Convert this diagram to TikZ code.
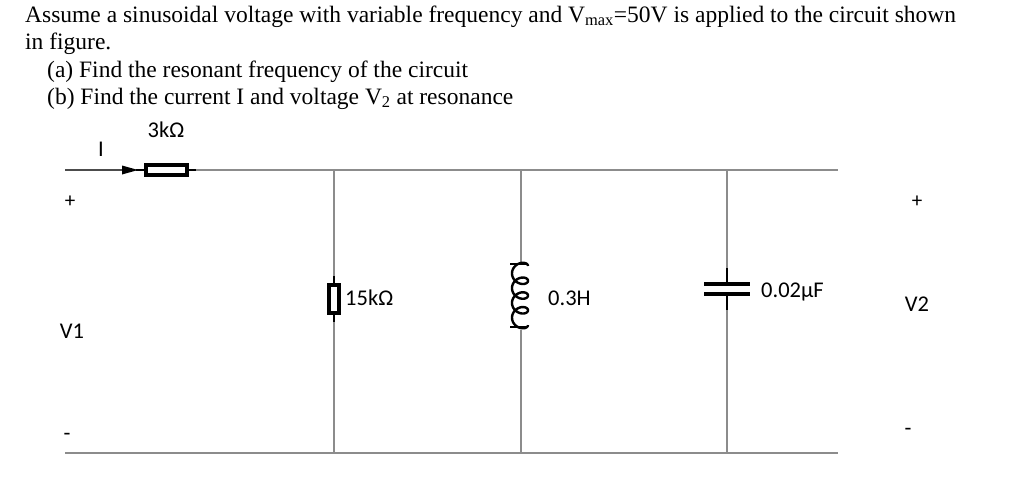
\documentclass[tikz,border=0pt]{standalone}
\usepackage{fontspec}
\setmainfont{Liberation Serif}
\newfontfamily\lbl{Carlito}
\begin{document}
\begin{tikzpicture}[x=1pt,y=-1pt,
  wire/.style={draw=black!45,line width=1.1pt},
  comp/.style={draw=black,line width=3.2pt},
  lab/.style={font=\lbl\fontsize{22.5}{26}\selectfont,inner sep=0pt},
  hdr/.style={font=\fontsize{23.5}{28}\selectfont,inner sep=0pt,anchor=base west}]
\useasboundingbox (0,0) rectangle (1024,479);
\node[hdr] (t1) at (25,22) {Assume a sinusoidal voltage with variable frequency and V\textsubscript{max}=50V is applied to the circuit shown};
\node[hdr] (t2) at (25,49) {in figure.};
\node[hdr] (t3) at (47,77) {(a) Find the resonant frequency of the circuit};
\node[hdr] (t4) at (47,104) {(b) Find the current I and voltage V\textsubscript{2} at resonance};
\coordinate (L1) at (65,170); \coordinate (R1) at (838,170);
\coordinate (L2) at (65,453); \coordinate (R2) at (838,453);
\coordinate (a1) at (334,170); \coordinate (a2) at (334,453);
\coordinate (b1) at (521,170); \coordinate (b2) at (521,453);
\coordinate (c1) at (727,170); \coordinate (c2) at (727,453);
\draw[wire] (L1) -- (R1);
\draw[wire] (L2) -- (R2);
\draw[wire] (a1) -- (a2);
\draw[wire] (b1) -- (b2);
\draw[wire] (c1) -- (c2);
% series resistor with arrow
\fill[white] (120,163) rectangle (190,177);
\draw[black!70,line width=1.1pt] (65,170) -- (122,170);
\fill[black] (122,165.5) -- (138,170) -- (122,174.5) -- cycle;
\draw[black,line width=2pt] (136,170) -- (146,170) (187,170) -- (196,170);
\draw[comp] (146,165) rectangle (187,175);
\node[lab] (r1) at (166,130) {3kΩ};
\node[lab] (I) at (101,149) {I};
% 15k resistor
\fill[white] (326,276) rectangle (342,322);
\draw[black,line width=2pt] (334,276) -- (334,285) (334,313) -- (334,322);
\draw[comp] (329,285) rectangle (339,313);
\node[lab,anchor=west] (r2) at (345,298) {15kΩ};
% inductor
\fill[white] (505,262) rectangle (535,330);
\draw[black,line width=2.4pt] (510,264) -- (528,264) (510,327) -- (528,327);
\draw[black,line width=2.4pt,smooth,samples=160,domain=0:25.13]
  plot ({520+8*cos(\x r)},{266+2.35*\x-6.5*sin(\x r)});
\node[lab,anchor=west] (l1) at (548,298) {0.3H};
% capacitor
\fill[white] (700,276) rectangle (754,300);
\draw[black,line width=2pt] (727,268) -- (727,284) (727,294) -- (727,310);
\draw[black,line width=3.2pt] (704,284) -- (750,284) (704,294) -- (750,294);
\node[lab,anchor=west] (cl) at (761,292) {0.02μF};
% terminals
\node[lab,font=\lbl\fontsize{21}{24}\selectfont] (p1) at (70,202) {+};
\node[lab,font=\lbl\fontsize{21}{24}\selectfont] (p2) at (917,202) {+};
\node[lab] (v1) at (72,331) {V1};
\node[lab] (v2) at (917,304) {V2};
\node[lab] (m1) at (67,437) {-};
\node[lab] (m2) at (908,432) {-};
\end{tikzpicture}
\end{document}
